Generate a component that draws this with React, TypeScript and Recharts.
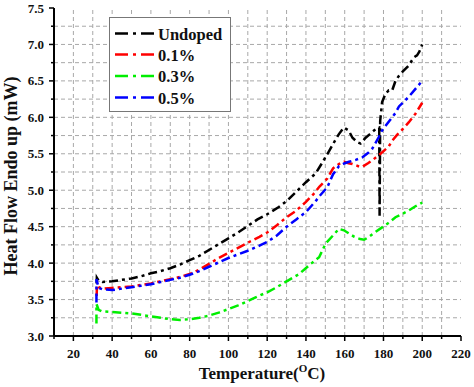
import React from 'react';
import { LineChart, Line, XAxis, YAxis, ReferenceLine, Legend } from 'recharts';

const FONT = '"Liberation Serif", "Times New Roman", Times, serif';

// Temperature (°C) and heat flow (mW) per sample
const undopedT = [32, 32.1, 33, 35, 40, 45, 50, 55, 60, 65, 70, 75, 80, 85, 90, 95, 100, 105, 110, 115, 120, 126, 130, 135, 140, 145, 148, 152, 155, 157, 159.6, 162, 164, 166.5, 168.2, 170.8, 173, 176, 177.8, 178, 178.3, 179.3, 181, 182.7, 184.5, 186.2, 188, 190, 193, 195.6, 197.3, 198.5, 200];
const undopedHF = [3.72, 3.8, 3.76, 3.74, 3.75, 3.77, 3.79, 3.82, 3.86, 3.89, 3.93, 3.98, 4.04, 4.1, 4.18, 4.26, 4.34, 4.42, 4.51, 4.6, 4.67, 4.77, 4.85, 4.98, 5.11, 5.23, 5.36, 5.54, 5.68, 5.77, 5.86, 5.82, 5.72, 5.66, 5.64, 5.72, 5.77, 5.84, 5.86, 4.65, 5.95, 6.21, 6.32, 6.37, 6.37, 6.5, 6.57, 6.63, 6.71, 6.82, 6.85, 6.9, 7.0];

const p01T = [32, 32.2, 33, 35, 40, 45, 50, 55, 60, 65, 70, 75, 80, 85, 90, 95, 100, 105, 110, 116, 120, 125, 130, 135, 140, 144, 147, 151, 154, 157, 159.6, 162, 164, 167, 169, 172, 174.2, 178.5, 182.7, 184.5, 187, 190, 193, 196.5, 200];
const p01HF = [3.55, 3.7, 3.67, 3.65, 3.66, 3.67, 3.68, 3.7, 3.72, 3.75, 3.78, 3.81, 3.85, 3.91, 3.99, 4.07, 4.14, 4.21, 4.28, 4.36, 4.42, 4.52, 4.63, 4.72, 4.84, 4.95, 5.05, 5.16, 5.3, 5.36, 5.39, 5.37, 5.36, 5.33, 5.32, 5.37, 5.41, 5.5, 5.6, 5.68, 5.76, 5.84, 5.93, 6.05, 6.2];

const p03T = [31.9, 31.9, 33, 34.5, 40, 45, 50, 55, 60, 65, 70, 75, 80, 85, 90, 95, 100, 105, 110, 114, 120, 125, 130, 136.5, 142.5, 146.8, 150.2, 154, 157, 159.6, 162, 165, 168, 170, 172.5, 176, 179.3, 183, 186.2, 190, 193, 196.5, 200];
const p03HF = [3.17, 3.44, 3.36, 3.34, 3.33, 3.32, 3.31, 3.29, 3.27, 3.25, 3.23, 3.22, 3.23, 3.25, 3.28, 3.32, 3.37, 3.42, 3.48, 3.53, 3.6, 3.67, 3.75, 3.85, 3.99, 4.08, 4.27, 4.38, 4.47, 4.45, 4.41, 4.36, 4.33, 4.32, 4.36, 4.43, 4.49, 4.56, 4.63, 4.68, 4.72, 4.78, 4.83];

const p05T = [31.9, 31.9, 33, 35, 40, 45, 50, 55, 60, 65, 70, 75, 80, 85, 90, 95, 100, 105, 110, 116, 120, 125, 130, 135, 140, 145, 147, 151, 154, 157, 160, 162.2, 166, 169, 172, 174.2, 177.6, 179.3, 183, 186.2, 188, 190, 193, 196.5, 200];
const p05HF = [3.46, 3.78, 3.66, 3.64, 3.63, 3.65, 3.67, 3.69, 3.71, 3.74, 3.77, 3.8, 3.84, 3.89, 3.95, 4.01, 4.07, 4.12, 4.17, 4.24, 4.29, 4.38, 4.5, 4.6, 4.7, 4.85, 4.92, 5.04, 5.22, 5.33, 5.37, 5.39, 5.42, 5.45, 5.51, 5.57, 5.73, 5.82, 5.95, 6.06, 6.15, 6.2, 6.28, 6.39, 6.5];

const seriesNames = ['Undoped', '0.1%', '0.3%', '0.5%'];
const seriesColors = ['#000000', '#ff0000', '#00ee00', '#0000ff'];

const xTicks = [10, 20, 30, 40, 50, 60, 70, 80, 90, 100, 110, 120, 130, 140, 150, 160, 170, 180, 190, 200, 210, 220];
const yTicks = [3, 3.25, 3.5, 3.75, 4, 4.25, 4.5, 4.75, 5, 5.25, 5.5, 5.75, 6, 6.25, 6.5, 6.75, 7, 7.25, 7.5];

const toPoints = (t: number[], v: number[]) => t.map((x, i) => ({ t: x, v: v[i] }));
const seriesData = [
  toPoints(undopedT, undopedHF),
  toPoints(p01T, p01HF),
  toPoints(p03T, p03HF),
  toPoints(p05T, p05HF),
];

const DASH = '9 4 3 4';
const GRID = '#a8a8a8';

const XTick = (props: any) => {
  const { x, y, payload } = props;
  const v = payload.value;
  const major = v % 20 === 0;
  return (
    <g>
      <line x1={x} x2={x} y1={y} y2={y + (major ? 5 : 3)} stroke="#000" strokeWidth={1.5} />
      {major && v !== 10 ? (
        <text x={x} y={y + 22} textAnchor="middle" fontFamily={FONT} fontWeight="bold" fontSize={13} fill="#111">
          {v}
        </text>
      ) : null}
    </g>
  );
};

const YTick = (props: any) => {
  const { x, y, payload } = props;
  const v = payload.value;
  const major = Math.abs(v * 2 - Math.round(v * 2)) < 1e-6;
  return (
    <g>
      <line x1={x} x2={x - (major ? 5 : 3)} y1={y} y2={y} stroke="#000" strokeWidth={1.5} />
      {major ? (
        <text x={x - 10} y={y + 4.5} textAnchor="end" fontFamily={FONT} fontWeight="bold" fontSize={13} fill="#111">
          {v.toFixed(1)}
        </text>
      ) : null}
    </g>
  );
};

const LegendBox = () => (
  <div style={{ width: 122, height: 95, border: '1px solid #777', background: '#fff', boxSizing: 'border-box' }}>
    <svg width={120} height={93}>
      {seriesNames.map((n, i) => {
        const cy = [15.5, 36.5, 58, 79.5][i];
        return (
          <g key={n}>
            <line x1={5} x2={46} y1={cy} y2={cy} stroke={seriesColors[i]} strokeWidth={2.5} strokeDasharray="13 5 3 5" />
            <text x={48} y={cy + 6} fontFamily={FONT} fontWeight="bold" fontSize={16.5} fill="#111">
              {n}
            </text>
          </g>
        );
      })}
    </svg>
  </div>
);

export default function App() {
  return (
    <div style={{ position: 'absolute', left: 0, top: 0, width: 474, height: 387, background: '#fff' }}>
      <LineChart width={474} height={387} margin={{ top: 8, right: 13, left: 0, bottom: 0 }}>
        <XAxis
          dataKey="t"
          type="number"
          domain={[10, 220]}
          ticks={xTicks}
          interval={0}
          allowDataOverflow
          height={51}
          tickSize={0}
          tickMargin={0}
          tickLine={false}
          axisLine={{ stroke: '#000', strokeWidth: 2 }}
          tick={<XTick />}
          label={(p: any) => (
            <text x={262} y={379} textAnchor="middle" fontFamily={FONT} fontWeight="bold" fontSize={17} fill="#111">
              Temperature(
              <tspan dy={-7} fontSize={11}>O</tspan>
              <tspan dy={7}>C)</tspan>
            </text>
          )}
        />
        <XAxis
          xAxisId="t"
          orientation="top"
          type="number"
          domain={[10, 220]}
          height={0}
          tick={false}
          tickLine={false}
          axisLine={{ stroke: '#888', strokeWidth: 1 }}
        />
        <YAxis
          type="number"
          domain={[3, 7.5]}
          ticks={yTicks}
          interval={0}
          allowDataOverflow
          width={54}
          tickSize={0}
          tickMargin={0}
          tickLine={false}
          axisLine={{ stroke: '#000', strokeWidth: 2 }}
          tick={<YTick />}
          label={(p: any) => (
            <text
              x={17}
              y={176}
              transform="rotate(-90 17 176)"
              textAnchor="middle"
              fontFamily={FONT}
              fontWeight="bold"
              fontSize={18}
              fill="#111"
            >
              Heat Flow Endo up (mW)
            </text>
          )}
        />
        <YAxis
          yAxisId="r"
          orientation="right"
          type="number"
          domain={[3, 7.5]}
          width={0}
          tick={false}
          tickLine={false}
          axisLine={{ stroke: '#888', strokeWidth: 1 }}
        />
        {xTicks.slice(1, -1).map((v) => (
          <ReferenceLine key={'gx' + v} x={v} stroke={GRID} strokeDasharray="4 3" strokeWidth={1} />
        ))}
        {yTicks.slice(1, -1).map((v) => (
          <ReferenceLine key={'gy' + v} y={v} stroke={GRID} strokeDasharray="4 3" strokeWidth={1} />
        ))}
        <Legend
          layout="vertical"
          align="center"
          verticalAlign="middle"
          wrapperStyle={{ position: 'absolute', left: 109, top: 17, width: 122, height: 95 }}
          content={() => <LegendBox />}
        />
        {seriesData.map((d, i) => (
          <Line
            key={seriesNames[i]}
            data={d}
            dataKey="v"
            name={seriesNames[i]}
            type="linear"
            stroke={seriesColors[i]}
            strokeWidth={2.5}
            strokeDasharray={DASH}
            dot={false}
            activeDot={false}
            isAnimationActive={false}
          />
        ))}
      </LineChart>
    </div>
  );
}
